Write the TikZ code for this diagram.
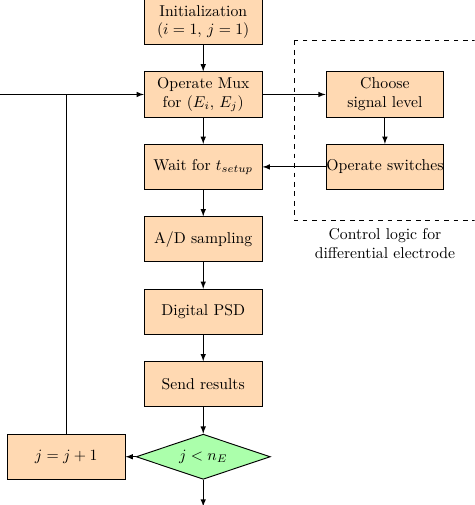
\documentclass[tikz,border=0pt]{standalone}
\usepackage{tikz}
\usetikzlibrary{arrows,positioning,shapes.geometric,calc}

\tikzset{
  block/.style={rectangle, draw, fill=orange!30, inner xsep=0pt,
                minimum width=75pt, minimum height=28.7pt, align=center},
  decision/.style={diamond, draw, fill=green!33, inner sep=0pt, aspect=3,
                minimum width=85.4pt, minimum height=28.7pt},
}

\begin{document}
\begin{tikzpicture}[>=latex,semithick,node distance=16.8pt]

        \clip (-129.3pt,-307.3pt) rectangle (172.6pt,14pt);

        \node[block]    (init)                          {Initialization\\$(i=1,\,j=1)$};
        \node[block]    (mux)     [below=of init]       {Operate Mux\\for $(E_i,\,E_j)$};
        \node[block]    (wait)    [below=of mux]        {Wait for $t_{setup}$};
        \node[block]    (adc)     [below=of wait]       {A/D sampling};
        \node[block]    (psd)     [below=of adc]        {Digital PSD};
        \node[block]    (send)    [below=of psd]        {Send results};
        \node[decision] (test)    [below=of send]       {$j<n_E$};
        \node[block]    (jinc)    [left=6.4pt of test]  {$j=j+1$};
        \node[block]    (choose)  [right=40pt of mux]   {Choose\\signal level};
        \node[block]    (switches)[below=of choose]     {Operate switches};

        \coordinate (iloop) at ($(mux.west)+(-150pt,0)$);
        \coordinate (exit)  at ($(test.south)+(0,-17pt)$);

        \draw[dashed] ($(choose.north west)+(-19.7pt,19.7pt)$) coordinate (ctrlnw)
                rectangle ($(switches.south east)+(40pt,-19.7pt)$) coordinate (ctrlse);
        \node[align=center, anchor=north] (ctrltxt) at ($(switches |- ctrlse)+(0,-1pt)$)
                {Control logic for\\differential electrode};

        \path[->]   (init) edge (mux)
                    (mux) edge (wait)
                          edge (choose)
                    (wait) edge (adc)
                    (adc) edge (psd)
                    (psd) edge (send)
                    (send) edge (test)
                    (test) edge (jinc)
                           edge (exit)
                    (choose) edge (switches)
                    (switches) edge (wait)
                    (iloop) edge (mux);

        \draw (jinc.north) -- (jinc |- mux);

\end{tikzpicture}
\end{document}
